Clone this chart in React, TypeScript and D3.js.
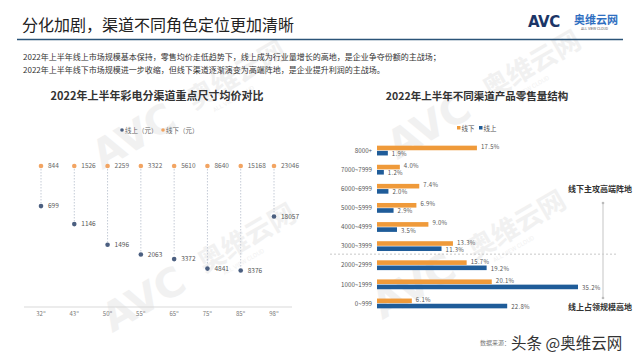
import React, { useEffect, useRef } from 'react';
import * as d3 from 'd3';

// left chart: average price by screen size
const sizes = ['32"', '43"', '50"', '55"', '65"', '75"', '85"', '98"'];
const offlinePrice = [844, 1526, 2259, 3322, 5610, 8640, 15168, 23046];
const onlinePrice = [699, 1146, 1496, 2063, 3372, 4841, 8376, 18057];

// right chart: sales volume share by price band
const priceBands = ['8000+', '7000~7999', '6000~6999', '5000~5999', '4000~4999', '3000~3999', '2000~2999', '1000~1999', '0~999'];
const offlineShare = [17.5, 4.0, 7.4, 6.9, 9.0, 13.3, 15.7, 20.1, 6.1];
const onlineShare = [1.9, 1.2, 2.0, 2.9, 3.5, 11.3, 19.2, 35.2, 22.8];

const FONT = '"Noto Sans CJK SC", "Noto Sans", sans-serif';
const ORANGE = '#ef9a3a';
const BLUE = '#1f5c99';
const DOT_ORANGE = '#f2a462';
const DOT_BLUE = '#4b5f80';

export default function App() {
  const ref = useRef<SVGSVGElement>(null);

  useEffect(() => {
    const svg = d3.select(ref.current);
    svg.selectAll('*').remove();
    svg.attr('font-family', FONT);

    svg.append('rect').attr('width', 640).attr('height', 360).attr('fill', '#fff');

    // faint watermarks
    const marks = [
      [175, 112],
      [185, 275],
      [455, 262],
      [470, 102],
    ];
    marks.forEach(([cx, cy]) => {
      const g = svg.append('g')
        .attr('transform', `translate(${cx},${cy}) rotate(-30)`)
        .attr('fill', '#f1f1f1');
      g.append('text').attr('x', -92).attr('y', 14)
        .attr('font-size', 40).attr('font-weight', 900)
        .attr('font-family', '"DejaVu Sans", sans-serif').text('AVC');
      g.append('text').attr('x', 18).attr('y', 8)
        .attr('font-size', 27).attr('font-weight', 700).text('奥维云网');
      g.append('text').attr('x', 34).attr('y', 20)
        .attr('font-size', 6).attr('font-family', 'Roboto, sans-serif').text('ALL VIEW CLOUD');
    });

    // header
    svg.append('text').attr('x', 22).attr('y', 31)
      .attr('font-size', 16).attr('fill', '#222')
      .text('分化加剧，渠道不同角色定位更加清晰');
    svg.append('line').attr('x1', 17).attr('x2', 623).attr('y1', 39.5).attr('y2', 39.5)
      .attr('stroke', '#2b5478').attr('stroke-width', 1.5);

    const logo = svg.append('g');
    logo.append('text').attr('x', 528).attr('y', 27)
      .attr('font-size', 15).attr('font-weight', 900).attr('fill', '#1b3567')
      .attr('font-family', '"DejaVu Sans", sans-serif').attr('letter-spacing', -0.5).text('AVC');
    logo.append('text').attr('x', 574).attr('y', 24)
      .attr('font-size', 11).attr('font-weight', 700).attr('fill', '#2f6fc1').text('奥维云网');
    logo.append('text').attr('x', 581).attr('y', 30)
      .attr('font-size', 3.5).attr('fill', '#666').attr('font-family', 'Roboto, sans-serif').text('ALL VIEW CLOUD');

    svg.append('text').attr('x', 23).attr('y', 60)
      .attr('font-size', 8).attr('fill', '#333')
      .text('2022年上半年线上市场规模基本保持，零售均价走低趋势下，线上成为行业量增长的高地，是企业争夺份额的主战场；');
    svg.append('text').attr('x', 23).attr('y', 73)
      .attr('font-size', 8).attr('fill', '#333')
      .text('2022年上半年线下市场规模进一步收缩，但线下渠道逐渐演变为高端阵地，是企业提升利润的主战场。');

    // ---------- left chart ----------
    const left = svg.append('g');
    left.append('text').attr('x', 157).attr('y', 100).attr('text-anchor', 'middle')
      .attr('font-size', 11).attr('font-weight', 700).attr('fill', '#333')
      .text('2022年上半年彩电分渠道重点尺寸均价对比');

    const legL = [
      { label: '线上（元）', color: DOT_BLUE, x: 122 },
      { label: '线下（元）', color: DOT_ORANGE, x: 163 },
    ];
    legL.forEach(l => {
      left.append('circle').attr('cx', l.x).attr('cy', 130).attr('r', 1.8).attr('fill', l.color);
      left.append('text').attr('x', l.x + 3).attr('y', 132.5)
        .attr('font-size', 6.5).attr('fill', '#666').text(l.label);
    });

    const x = d3.scalePoint<string>().domain(sizes).range([41, 274]);
    // online price shown relative to offline price
    const y = d3.scaleLinear().domain([0.4, 1]).range([306, 166]);

    left.append('line').attr('x1', 24).attr('x2', 292).attr('y1', 307).attr('y2', 307)
      .attr('stroke', '#d9d9d9');

    sizes.forEach((s, i) => {
      const cx = x(s)!;
      const ratio = onlinePrice[i] / offlinePrice[i];
      left.append('line').attr('x1', cx).attr('x2', cx)
        .attr('y1', y(1) + 3).attr('y2', y(ratio) - 3)
        .attr('stroke', '#c4cbd6').attr('stroke-dasharray', '1.5,1.5');
      left.append('circle').attr('cx', cx).attr('cy', y(1)).attr('r', 2.3).attr('fill', DOT_ORANGE);
      left.append('circle').attr('cx', cx).attr('cy', y(ratio)).attr('r', 2.3).attr('fill', DOT_BLUE);
      left.append('text').attr('x', cx + 7).attr('y', y(1) + 2.3)
        .attr('font-size', 6.5).attr('fill', '#666').text(offlinePrice[i]);
      left.append('text').attr('x', cx + 7).attr('y', y(ratio) + 2.3)
        .attr('font-size', 6.5).attr('fill', '#555').text(onlinePrice[i]);
      left.append('text').attr('x', cx).attr('y', 316).attr('text-anchor', 'middle')
        .attr('font-size', 6).attr('fill', '#777').text(s);
    });

    // ---------- right chart ----------
    const right = svg.append('g');
    right.append('text').attr('x', 477).attr('y', 100).attr('text-anchor', 'middle')
      .attr('font-size', 10.5).attr('font-weight', 700).attr('fill', '#333')
      .text('2022年上半年不同渠道产品零售量结构');

    const legR = [
      { label: '线下', color: ORANGE, x: 457 },
      { label: '线上', color: BLUE, x: 479 },
    ];
    legR.forEach(l => {
      right.append('rect').attr('x', l.x).attr('y', 126).attr('width', 3.5).attr('height', 3.5).attr('fill', l.color);
      right.append('text').attr('x', l.x + 4.5).attr('y', 130.5)
        .attr('font-size', 6.5).attr('fill', '#555').text(l.label);
    });

    const yb = d3.scaleBand<string>().domain(priceBands).range([141, 313]);
    const xs = d3.scaleLinear().domain([0, 40]).range([377, 605.4]);
    const bh = 4.6;

    right.append('line')
      .attr('x1', 330).attr('x2', 616)
      .attr('y1', yb('2000~2999')! - 1.5).attr('y2', yb('2000~2999')! - 1.5)
      .attr('stroke', '#c8c8c8').attr('stroke-dasharray', '2,2');

    priceBands.forEach((c, i) => {
      const cy = yb(c)! + yb.bandwidth() / 2;
      right.append('text').attr('x', 372).attr('y', cy + 2.2).attr('text-anchor', 'end')
        .attr('font-size', 6.2).attr('fill', '#555').text(c);
      right.append('rect').attr('x', xs(0)).attr('y', cy - bh - 0.3)
        .attr('width', xs(offlineShare[i]) - xs(0)).attr('height', bh).attr('fill', ORANGE);
      right.append('rect').attr('x', xs(0)).attr('y', cy + 0.3)
        .attr('width', xs(onlineShare[i]) - xs(0)).attr('height', bh).attr('fill', BLUE);
      right.append('text').attr('x', xs(offlineShare[i]) + 4).attr('y', cy - 1.6)
        .attr('font-size', 6).attr('fill', '#555').attr('letter-spacing', 0.3)
        .text(offlineShare[i].toFixed(1) + '%');
      right.append('text').attr('x', xs(onlineShare[i]) + 4).attr('y', cy + 5.6)
        .attr('font-size', 6).attr('fill', '#555').attr('letter-spacing', 0.3)
        .text(onlineShare[i].toFixed(1) + '%');
    });

    // annotation arrow
    right.append('line').attr('x1', 603).attr('x2', 603).attr('y1', 203).attr('y2', 298)
      .attr('stroke', '#cfcfcf').attr('stroke-width', 1.2);
    right.append('circle').attr('cx', 603).attr('cy', 203).attr('r', 1.3).attr('fill', '#bbb');
    right.append('circle').attr('cx', 603).attr('cy', 298).attr('r', 1.3).attr('fill', '#bbb');
    right.append('text').attr('x', 600).attr('y', 192).attr('text-anchor', 'middle')
      .attr('font-size', 8).attr('font-weight', 700).attr('fill', '#333').text('线下主攻高端阵地');
    right.append('text').attr('x', 600).attr('y', 310).attr('text-anchor', 'middle')
      .attr('font-size', 8).attr('font-weight', 700).attr('fill', '#333').text('线上占领规模高地');

    // footer
    svg.append('text').attr('x', 480).attr('y', 345)
      .attr('font-size', 6).attr('fill', '#777').text('数据来源：');
    svg.append('text').attr('x', 511).attr('y', 349)
      .attr('font-size', 15.5).attr('fill', '#333').text('头条 @奥维云网');
  }, []);

  return (
    <svg
      ref={ref}
      width={640}
      height={360}
      style={{ position: 'absolute', left: 0, top: 0, display: 'block' }}
    />
  );
}
